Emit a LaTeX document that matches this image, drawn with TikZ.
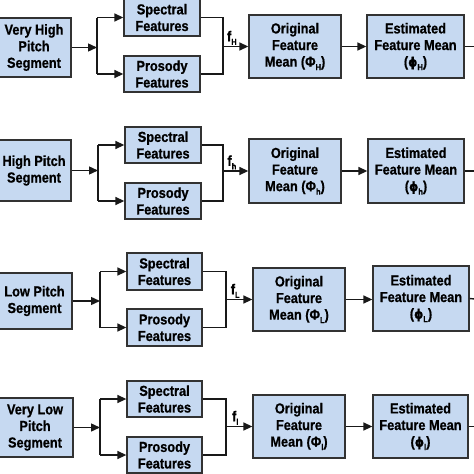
\documentclass[tikz,border=0pt]{standalone}
\usepackage{fontspec}
\setmainfont[FakeStretch=0.88,BoldFeatures={FakeBold=0.7}]{Liberation Sans}
\newfontfamily\phifont[FakeStretch=0.9,BoldFeatures={FakeBold=0.7}]{DejaVu Sans}
\usetikzlibrary{arrows.meta}
\definecolor{boxfill}{RGB}{198,217,241}
\definecolor{boxline}{RGB}{50,50,50}
\newcommand\mysub[1]{\raisebox{-0.45ex}{\fontsize{8.5}{8.5}\selectfont #1}}
\newcommand\smallphi{{\phifont\fontsize{13}{13}\selectfont ϕ}}
\tikzset{
  blk/.style={draw=boxline, line width=1.3pt, fill=boxfill, align=center,
    font=\fontsize{14.5}{16.6}\selectfont\bfseries, inner sep=1pt},
  conn/.style={line width=1.4pt, draw=black!90},
  arr/.style={conn, -{Triangle[length=9pt,width=8pt]}},
  flab/.style={font=\fontsize{14.5}{15}\selectfont\bfseries, anchor=south, inner sep=1pt}
}
\begin{document}
\begin{tikzpicture}[x=1pt,y=-1pt]
\useasboundingbox (0,0) rectangle (474,474);
\clip (0,0) rectangle (474,474);
% ---------- Row 1 ----------
\node[blk, minimum width=74pt, minimum height=59pt] (seg1) at (34,47.5) {Very High\\Pitch\\Segment};
\node[blk, minimum width=76pt, minimum height=37pt] (spec1) at (162,17.5) {Spectral\\Features};
\node[blk, minimum width=76pt, minimum height=36pt] (pros1) at (162,74) {Prosody\\Features};
\node[blk, minimum width=92pt, minimum height=63pt] (orig1) at (295,46.5) {Original\\Feature\\Mean (Φ\mysub{H})};
\node[blk, minimum width=97pt, minimum height=63pt] (est1) at (415.5,46.5) {Estimated\\Feature Mean\\(\smallphi\mysub{H})};
\coordinate (j1) at (97,47.5);
\coordinate (js1) at (97,17.5);
\coordinate (jp1) at (97,74);
\coordinate (ms1) at (223,17.5);
\coordinate (mp1) at (223,74);
\coordinate (m1) at (223,46.5);
\coordinate (e1) at (480,46.5);
\draw[arr] (seg1.east) -- (j1);
\draw[conn] (js1) -- (jp1);
\draw[arr] (js1) -- (spec1.west);
\draw[arr] (jp1) -- (pros1.west);
\draw[conn] (spec1.east) -- (ms1) -- (mp1) -- (pros1.east);
\draw[arr] (m1) -- node[flab, pos=0.35] {f\mysub{H}} (orig1.west);
\draw[arr] (orig1.east) -- (est1.west);
\draw[conn] (est1.east) -- (e1);
% ---------- Row 2 ----------
\node[blk, minimum width=74pt, minimum height=61pt] (seg2) at (34,170.5) {High Pitch\\Segment};
\node[blk, minimum width=76pt, minimum height=36pt] (spec2) at (163,145) {Spectral\\Features};
\node[blk, minimum width=76pt, minimum height=36pt] (pros2) at (163,201) {Prosody\\Features};
\node[blk, minimum width=92pt, minimum height=64pt] (orig2) at (295,171) {Original\\Feature\\Mean (Φ\mysub{h})};
\node[blk, minimum width=96pt, minimum height=64pt] (est2) at (416,171) {Estimated\\Feature Mean\\(\smallphi\mysub{h})};
\coordinate (j2) at (98,170.5);
\coordinate (js2) at (98,145);
\coordinate (jp2) at (98,201);
\coordinate (ms2) at (223,145);
\coordinate (mp2) at (223,201);
\coordinate (m2) at (223,171);
\coordinate (e2) at (480,171);
\draw[arr] (seg2.east) -- (j2);
\draw[conn] (js2) -- (jp2);
\draw[arr] (js2) -- (spec2.west);
\draw[arr] (jp2) -- (pros2.west);
\draw[conn] (spec2.east) -- (ms2) -- (mp2) -- (pros2.east);
\draw[arr] (m2) -- node[flab, pos=0.35] {f\mysub{h}} (orig2.west);
\draw[arr] (orig2.east) -- (est2.west);
\draw[conn] (est2.east) -- (e2);
% ---------- Row 3 ----------
\node[blk, minimum width=75pt, minimum height=56pt] (seg3) at (34.5,301) {Low Pitch\\Segment};
\node[blk, minimum width=75pt, minimum height=37pt] (spec3) at (164.5,271.5) {Spectral\\Features};
\node[blk, minimum width=75pt, minimum height=37pt] (pros3) at (164.5,327.5) {Prosody\\Features};
\node[blk, minimum width=92pt, minimum height=63pt] (orig3) at (299,299.5) {Original\\Feature\\Mean (Φ\mysub{L})};
\node[blk, minimum width=96pt, minimum height=65pt] (est3) at (421,298.5) {Estimated\\Feature Mean\\(\smallphi\mysub{L})};
\coordinate (j3) at (100,301);
\coordinate (js3) at (100,271.5);
\coordinate (jp3) at (100,327.5);
\coordinate (ms3) at (226,271.5);
\coordinate (mp3) at (226,327.5);
\coordinate (m3) at (226,299.5);
\coordinate (e3) at (480,299.5);
\draw[arr] (seg3.east) -- (j3);
\draw[conn] (js3) -- (jp3);
\draw[arr] (js3) -- (spec3.west);
\draw[arr] (jp3) -- (pros3.west);
\draw[conn] (spec3.east) -- (ms3) -- (mp3) -- (pros3.east);
\draw[arr] (m3) -- node[flab, pos=0.35] {f\mysub{L}} (orig3.west);
\draw[arr] (orig3.east) -- (orig3.east -| est3.west);
\draw[conn] (est3.east) -- (e3);
% ---------- Row 4 ----------
\node[blk, minimum width=76pt, minimum height=59pt] (seg4) at (35,427.5) {Very Low\\Pitch\\Segment};
\node[blk, minimum width=75pt, minimum height=36pt] (spec4) at (164.5,399) {Spectral\\Features};
\node[blk, minimum width=75pt, minimum height=36pt] (pros4) at (164.5,455) {Prosody\\Features};
\node[blk, minimum width=92pt, minimum height=63pt] (orig4) at (299,426.5) {Original\\Feature\\Mean (Φ\mysub{l})};
\node[blk, minimum width=95pt, minimum height=63pt] (est4) at (420.5,426.5) {Estimated\\Feature Mean\\(\smallphi\mysub{l})};
\coordinate (j4) at (100,427.5);
\coordinate (js4) at (100,399);
\coordinate (jp4) at (100,455);
\coordinate (ms4) at (226,399);
\coordinate (mp4) at (226,455);
\coordinate (m4) at (226,426.5);
\coordinate (e4) at (480,426.5);
\draw[arr] (seg4.east) -- (j4);
\draw[conn] (js4) -- (jp4);
\draw[arr] (js4) -- (spec4.west);
\draw[arr] (jp4) -- (pros4.west);
\draw[conn] (spec4.east) -- (ms4) -- (mp4) -- (pros4.east);
\draw[arr] (m4) -- node[flab, pos=0.35] {f\mysub{l}} (orig4.west);
\draw[arr] (orig4.east) -- (est4.west);
\draw[conn] (est4.east) -- (e4);
\end{tikzpicture}
\end{document}
